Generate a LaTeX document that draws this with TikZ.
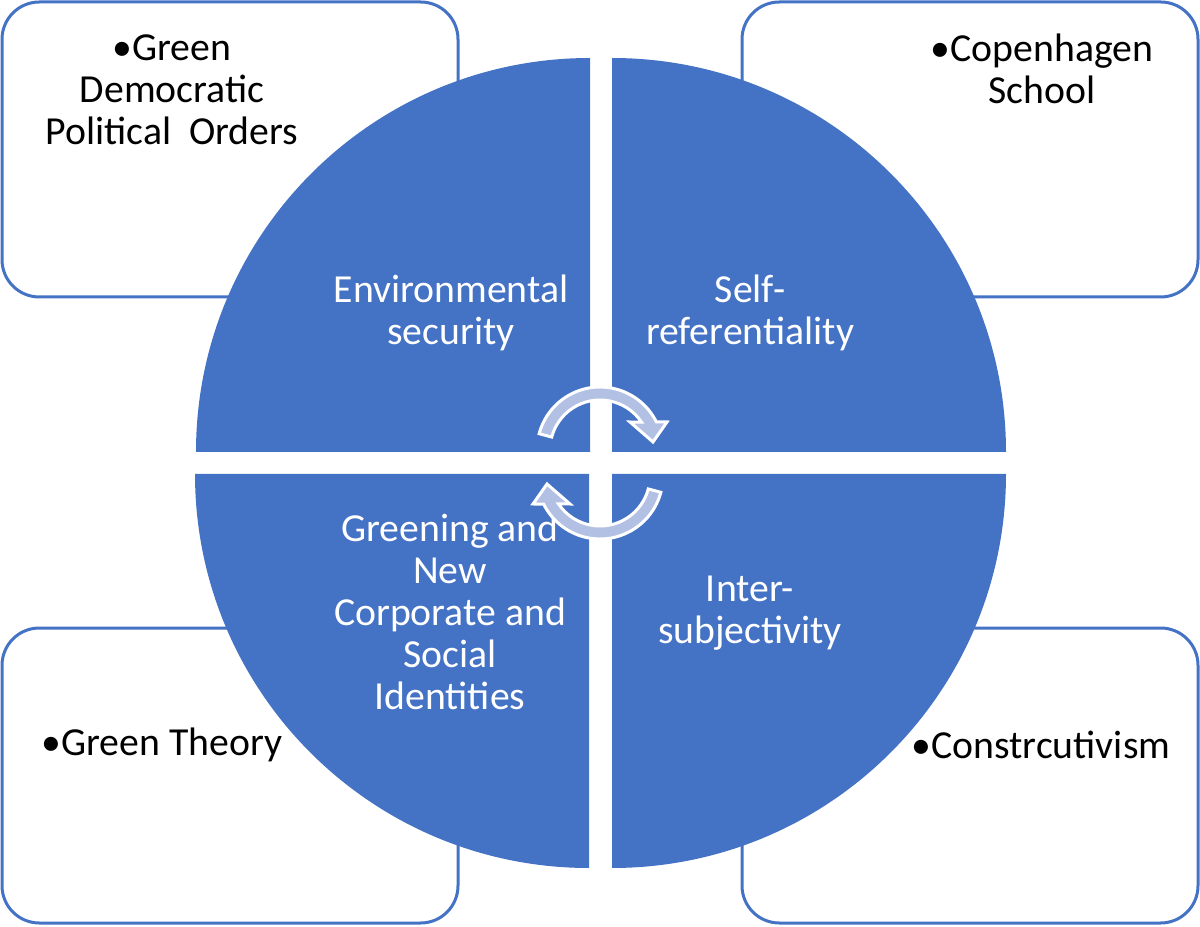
\documentclass[tikz,border=0pt]{standalone}
\usepackage{fontspec}
\setmainfont{Carlito}
\definecolor{quadblue}{RGB}{68,114,196}
\definecolor{arrowfill}{RGB}{178,192,227}
\tikzset{
  cornerbox/.style={draw=quadblue,line width=2.25pt,rounded corners=28pt},
  boxtext/.style={align=center,text=black,font=\fontsize{29.8}{31.5}\selectfont},
  quadtext/.style={align=center,text=white,font=\fontsize{29.8}{31.5}\selectfont},
  cyclearrow/.style={fill=arrowfill,draw=white,line width=2.25pt,line join=miter}
}
\begin{document}
\begin{tikzpicture}[x=0.75pt,y=0.75pt,line cap=round,line join=round]
    \def\rad{394} % radius of the quarter discs
    \useasboundingbox (0,0) rectangle (1200,926);
    % corner boxes
    \draw[cornerbox] (2,924) rectangle (458,629);
    \draw[cornerbox] (742,924) rectangle (1198,629);
    \draw[cornerbox] (2,298) rectangle (458,3);
    \draw[cornerbox] (742,298) rectangle (1198,3);
    % quarter discs
    \fill[quadblue] (590,474) -- ++(-\rad,0) arc[start angle=180,end angle=90,radius=\rad] -- cycle;
    \fill[quadblue] (612,474) -- ++(0,\rad) arc[start angle=90,end angle=0,radius=\rad] -- cycle;
    \fill[quadblue] (589,452) -- ++(0,-\rad) arc[start angle=270,end angle=180,radius=\rad] -- cycle;
    \fill[quadblue] (612,452) -- ++(\rad,0) arc[start angle=0,end angle=-90,radius=\rad] -- cycle;
    % texts
    \node[boxtext] (greendem) at (172,836) {•Green\\Democratic\\Political\ \ Orders};
    \node[boxtext] (copenhagen) at (1042,857) {•Copenhagen\\School};
    \node[boxtext] (greentheory) at (162,181) {•Green Theory};
    \node[boxtext] (construct) at (1041,181) {•Constrcutivism};
    \node[quadtext] (envsec) at (451,613) {Environmental\\security};
    \node[quadtext] (selfref) at (750,613) {Self-\\referentiality};
    \node[quadtext] (greening) at (450,314) {Greening and\\New\\Corporate and\\Social\\Identities};
    \node[quadtext] (intersub) at (750,313) {Inter-\\subjectivity};
    % cycle arrows
    \coordinate (ctr) at (600,463);
    \foreach \ang in {0,180}
        \draw[cyclearrow,shift={(ctr)},rotate=\ang,shift={(0,13)}] (165:63) arc[start angle=165,end angle=26.4,radius=63]
            -- (67,28) -- (53,8) -- (30,28) -- (34:50) arc[start angle=34,end angle=165,radius=50] -- cycle;
\end{tikzpicture}
\end{document}
